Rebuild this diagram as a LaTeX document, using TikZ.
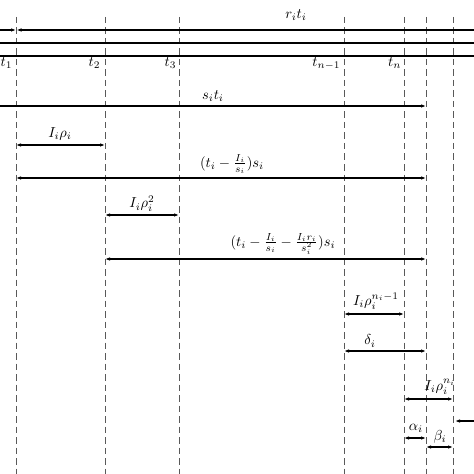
\documentclass[tikz,border=0pt]{standalone}
\usepackage{amsmath,amssymb}
\usepackage{tikz}
\usetikzlibrary{arrows,positioning,calc,arrows.meta}

\tikzset{
    tline/.style={black!65, line width=0.9bp, dash pattern=on 6.5bp off 4bp},
    axis/.style={line width=1.7bp},
    span/.style={line width=1.2bp, {Latex[length=5bp,width=3.5bp]}-{Latex[length=5bp,width=3.5bp]}},
    toR/.style={line width=1.2bp, -{Latex[length=5bp,width=3.5bp]}},
    toL/.style={line width=1.2bp, {Latex[length=5bp,width=3.5bp]}-},
    lbl/.style={scale=1.45, inner sep=1bp},
}

\begin{document}
\begin{tikzpicture}[x=1bp, y=-1bp]
    \useasboundingbox (0,0) rectangle (474,474);
    \clip (0,0) rectangle (474,474);

    % time lines
    \foreach \x in {16,105,179,344,404,426,453}
        \draw [tline] (\x,17) -- (\x,480);

    % top arrows and axis
    \draw [toR] (-10,30) -- (16,30);
    \draw [toL] (16.5,30) -- (480,30);
    \node (rt) [lbl] at (296,15) {$r_i t_i$};
    \draw [axis] (-5,43) -- (480,43);
    \draw [axis] (-5,56) -- (480,56);

    \node (t1) [lbl, anchor=north east] at (14,56) {$t_1$};
    \node (t2) [lbl, anchor=north east] at (102,56) {$t_2$};
    \node (t3) [lbl, anchor=north east] at (178,56) {$t_3$};
    \node (tn1) [lbl, anchor=north east] at (342,56) {$t_{n-1}$};
    \node (tn) [lbl, anchor=north east] at (403,56) {$t_n$};

    % spans
    \draw [toR] (-10,106) -- (426,106);
    \node (st) [lbl] at (213,96) {$s_i t_i$};

    \draw [span] (16,145) -- (105,145);
    \node (rho1) [lbl] at (60,134) {$I_i \rho_i$};

    \draw [span] (16,178) -- (426,178);
    \node (w1) [lbl] at (232,164) {$(t_i - \frac{I_i}{s_i}) s_i$};

    \draw [span] (105,215) -- (179,215);
    \node (rho2) [lbl] at (142,204) {$I_i \rho_i^2$};

    \draw [span] (105,259) -- (426,259);
    \node (w2) [lbl] at (283,244) {$(t_i - \frac{I_i}{s_i} - \frac{I_i r_i}{s_i^2}) s_i$};

    \draw [span] (344,314) -- (404,314);
    \node (rhon1) [lbl] at (376,301) {$I_i \rho_i^{n_i - 1}$};

    \draw [span] (344,351) -- (426,351);
    \node (delta) [lbl] at (370,341) {$\delta_i$};

    \draw [span] (404,399) -- (453,399);
    \node (rhon) [lbl] at (440,387) {$I_i \rho_i^{n_i}$};

    \draw [toL] (455,421) -- (480,421);

    \draw [span] (404,438) -- (426,438);
    \node (alpha) [lbl] at (416,428) {$\alpha_i$};
    \draw [span] (426,447) -- (453,447);
    \node (beta) [lbl] at (440,437) {$\beta_i$};
\end{tikzpicture}
\end{document}
